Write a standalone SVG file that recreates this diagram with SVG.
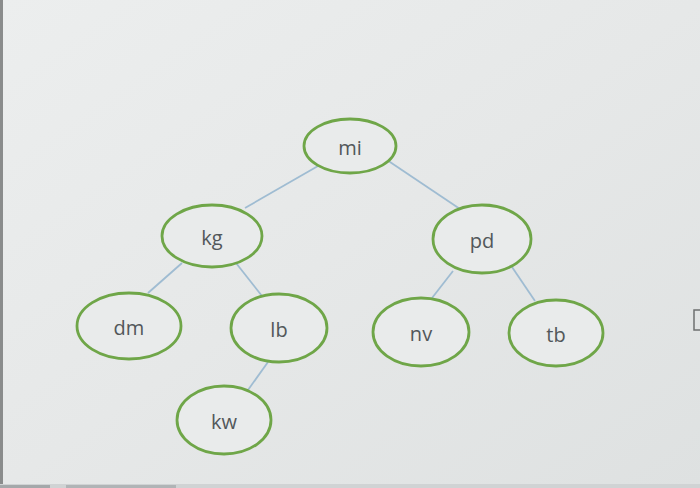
<svg xmlns="http://www.w3.org/2000/svg" width="700" height="488" viewBox="0 0 700 488">
<defs>
<linearGradient id="bg" x1="0" y1="0" x2="1" y2="1">
<stop offset="0" stop-color="#eceeee"/>
<stop offset="0.5" stop-color="#e6e8e8"/>
<stop offset="1" stop-color="#dee1e1"/>
</linearGradient>
</defs>
<style>
.node ellipse{fill:#e9ebeb;stroke:#6fa648;stroke-width:2.8}
.node text{font-family:"Open Sans","Noto Sans",sans-serif;font-size:20px;fill:#52575a;text-anchor:middle;dominant-baseline:central}
#edges line{stroke:#9fbcd2;stroke-width:1.8}
</style>
<rect width="700" height="488" fill="url(#bg)"/>
<rect x="0" y="0" width="3" height="488" fill="#8a8c8c"/>
<rect x="0" y="484" width="700" height="4" fill="#d0d3d4"/>
<rect x="0" y="485" width="50" height="3" fill="#a4a8aa"/>
<rect x="66" y="485" width="110" height="3" fill="#b0b4b6"/>
<path d="M700 310 H694 V330 H700" fill="none" stroke="#6e7070" stroke-width="1.5"/>
<g id="edges">
<line x1="318" y1="166" x2="245" y2="208"/>
<line x1="387" y1="160" x2="460" y2="209"/>
<line x1="182" y1="263" x2="148" y2="293"/>
<line x1="236" y1="263" x2="262" y2="296"/>
<line x1="268" y1="362" x2="248" y2="390"/>
<line x1="453" y1="271" x2="432" y2="298"/>
<line x1="512" y1="267" x2="535" y2="301"/>
</g>
<g id="node-mi" class="node"><ellipse cx="350" cy="146" rx="46" ry="27"/><text x="350" y="147">mi</text></g>
<g id="node-kg" class="node"><ellipse cx="212" cy="236" rx="50" ry="31"/><text x="212" y="237">kg</text></g>
<g id="node-pd" class="node"><ellipse cx="482" cy="239" rx="49" ry="34"/><text x="482" y="240">pd</text></g>
<g id="node-dm" class="node"><ellipse cx="129" cy="326" rx="52" ry="33"/><text x="129" y="327">dm</text></g>
<g id="node-lb" class="node"><ellipse cx="279" cy="328" rx="48" ry="34"/><text x="279" y="329">lb</text></g>
<g id="node-nv" class="node"><ellipse cx="421" cy="332" rx="48" ry="34"/><text x="421" y="333">nv</text></g>
<g id="node-tb" class="node"><ellipse cx="556" cy="333" rx="47" ry="33"/><text x="556" y="334">tb</text></g>
<g id="node-kw" class="node"><ellipse cx="224" cy="420" rx="47" ry="34"/><text x="224" y="421">kw</text></g>
</svg>
